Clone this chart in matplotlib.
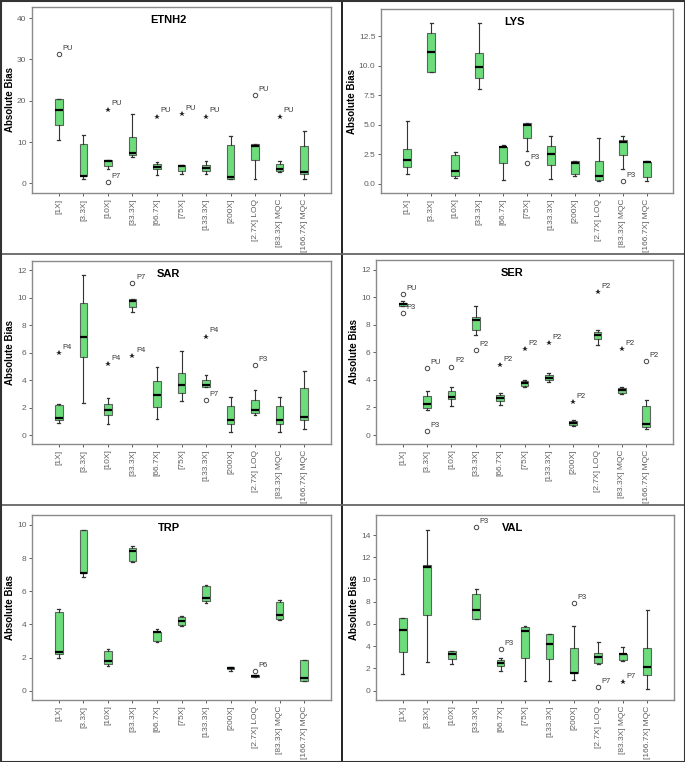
import matplotlib
matplotlib.use("Agg")
import matplotlib.pyplot as plt
from matplotlib.lines import Line2D
from matplotlib.ticker import FormatStrFormatter

plt.rcParams['font.family'] = ['Liberation Sans', 'DejaVu Sans']

categories = ["[1X]", "[3.3X]", "[10X]", "[33.3X]", "[66.7X]", "[75X]",
              "[133.3X]", "[200X]", "[2.7X] LOQ", "[83.3X] MQC", "[166.7X] MQC"]

# ---------------- ETNH2 ----------------
etnh2_q1  = [14.2, 1.9, 4.3, 6.8, 3.6, 3.0, 3.1, 1.1, 5.6, 3.0, 2.3]
etnh2_med = [17.9, 1.9, 5.5, 7.4, 4.0, 4.3, 3.7, 1.5, 9.1, 3.6, 2.8]
etnh2_q3  = [20.4, 9.5, 5.7, 11.2, 4.7, 4.5, 4.5, 9.4, 9.5, 4.6, 9.1]
etnh2_lo  = [10.6, 1.2, 3.4, 6.5, 2.1, 2.3, 2.4, 1.1, 1.0, 2.7, 1.2]
etnh2_hi  = [20.4, 11.7, 5.7, 16.7, 5.3, 4.5, 5.5, 11.6, 9.5, 5.5, 12.8]
etnh2_out_cat = [0, 2, 2, 4, 5, 6, 8, 9]
etnh2_out_val = [31.3, 17.9, 0.3, 16.2, 16.8, 16.2, 21.3, 16.2]
etnh2_out_lab = ["PU", "PU", "P7", "PU", "PU", "PU", "PU", "PU"]
etnh2_out_kind = ["o", "*", "o", "*", "*", "*", "o", "*"]

# ---------------- LYS ----------------
lys_q1  = [1.41, 9.48, 0.65, 8.97, 1.75, 3.84, 1.61, 0.85, 0.31, 2.40, 0.56]
lys_med = [1.98, 11.15, 1.07, 9.85, 3.08, 4.99, 2.51, 1.78, 0.62, 3.53, 1.81]
lys_q3  = [2.96, 12.75, 2.43, 11.09, 3.10, 5.16, 3.16, 1.92, 1.89, 3.72, 1.86]
lys_lo  = [0.85, 9.42, 0.50, 7.99, 0.31, 2.77, 0.42, 0.62, 0.20, 1.27, 0.20]
lys_hi  = [5.30, 13.60, 2.68, 13.60, 3.25, 5.16, 4.06, 1.92, 3.89, 4.06, 1.95]
lys_out_cat = [5, 9]
lys_out_val = [1.72, 0.20]
lys_out_lab = ["P3", "P3"]
lys_out_kind = ["o", "o"]

# ---------------- SAR ----------------
sar_q1  = [1.09, 5.67, 1.48, 9.33, 2.08, 3.08, 3.52, 0.80, 1.62, 0.80, 1.09]
sar_med = [1.28, 7.15, 1.82, 9.75, 2.91, 3.68, 3.64, 1.07, 1.82, 1.07, 1.31]
sar_q3  = [2.16, 9.60, 2.25, 9.94, 3.95, 4.51, 4.00, 2.11, 2.52, 2.11, 3.42]
sar_lo  = [0.87, 2.35, 0.82, 8.95, 1.16, 2.45, 3.47, 0.24, 1.48, 0.24, 0.46]
sar_hi  = [2.28, 11.68, 2.72, 9.94, 4.95, 6.11, 4.34, 2.76, 3.25, 2.76, 4.68]
sar_out_cat = [0, 2, 3, 3, 6, 6, 8]
sar_out_val = [5.99, 5.19, 11.08, 5.77, 7.18, 2.52, 5.09]
sar_out_lab = ["P4", "P4", "P7", "P4", "P4", "P7", "P3"]
sar_out_kind = ["*", "*", "o", "*", "*", "o", "o"]

# ---------------- SER ----------------
ser_q1  = [9.37, 1.96, 2.58, 7.65, 2.44, 3.57, 3.96, 0.70, 7.00, 3.07, 0.56]
ser_med = [9.51, 2.27, 2.75, 8.38, 2.70, 3.79, 4.15, 0.89, 7.24, 3.28, 0.77]
ser_q3  = [9.61, 2.80, 3.21, 8.55, 2.92, 3.94, 4.37, 1.04, 7.44, 3.38, 2.08]
ser_lo  = [9.37, 1.81, 2.10, 7.24, 2.17, 3.45, 3.86, 0.68, 6.54, 2.99, 0.43]
ser_hi  = [9.75, 3.21, 3.45, 9.39, 3.07, 3.98, 4.47, 1.09, 7.65, 3.45, 2.54]
ser_out_cat = [0, 0, 1, 1, 2, 3, 4, 5, 6, 7, 8, 9, 10]
ser_out_val = [10.26, 8.88, 4.88, 0.27, 4.97, 6.20, 5.05, 6.25, 6.66, 2.37, 10.36, 6.25, 5.38]
ser_out_lab = ["PU", "P3", "PU", "P3", "P2", "P2", "P2", "P2", "P2", "P2", "P2", "P2", "P2"]
ser_out_kind = ["o", "o", "o", "o", "o", "o", "*", "*", "*", "*", "*", "*", "o"]

# ---------------- TRP ----------------
trp_q1  = [2.19, 7.08, 1.63, 7.83, 3.00, 3.98, 5.39, 1.33, 0.85, 4.35, 0.58]
trp_med = [2.33, 7.08, 1.79, 8.41, 3.52, 4.21, 5.61, 1.39, 0.91, 4.55, 0.74]
trp_q3  = [4.77, 9.68, 2.41, 8.59, 3.54, 4.45, 6.30, 1.41, 0.95, 5.35, 1.83]
trp_lo  = [1.95, 6.88, 1.49, 7.79, 2.92, 3.90, 5.31, 1.19, 0.85, 4.25, 0.56]
trp_hi  = [4.93, 9.68, 2.52, 8.71, 3.72, 4.51, 6.38, 1.45, 0.95, 5.47, 1.83]
trp_out_cat = [8]
trp_out_val = [1.17]
trp_out_lab = ["P6"]
trp_out_kind = ["o"]

# ---------------- VAL ----------------
val_q1  = [3.46, 6.84, 2.89, 6.47, 2.26, 2.92, 2.89, 1.60, 2.47, 2.77, 1.45]
val_med = [5.45, 11.08, 3.34, 7.26, 2.53, 5.33, 4.19, 1.60, 3.01, 3.31, 2.17]
val_q3  = [6.53, 11.29, 3.58, 8.67, 2.74, 5.75, 5.06, 3.85, 3.43, 3.34, 3.85]
val_lo  = [1.54, 2.59, 2.44, 6.47, 1.75, 0.84, 0.84, 0.96, 2.41, 2.71, 0.18]
val_hi  = [6.53, 14.45, 3.58, 9.15, 2.92, 5.81, 5.06, 5.84, 4.34, 3.91, 7.29]
val_out_cat = [3, 4, 7, 8, 9]
val_out_val = [14.75, 3.76, 7.92, 0.36, 0.78]
val_out_lab = ["P3", "P3", "P3", "P7", "P7"]
val_out_kind = ["o", "o", "o", "o", "*"]

W, H = 685, 762
fig = plt.figure(figsize=(W / 100, H / 100), dpi=100)
fig.patch.set_facecolor("white")

def px_axes(left, right, top, bottom):
    return fig.add_axes([left / W, 1 - bottom / H, (right - left) / W, (bottom - top) / H])

panels = [
    ("ETNH2", (32, 331, 7, 193), (-2.3, 42.7), [0, 10, 20, 30, 40], "%d",
     etnh2_q1, etnh2_med, etnh2_q3, etnh2_lo, etnh2_hi,
     etnh2_out_cat, etnh2_out_val, etnh2_out_lab, etnh2_out_kind),
    ("LYS", (381, 673, 9, 193), (-0.8, 14.8), [0, 2.5, 5, 7.5, 10, 12.5], "%.1f",
     lys_q1, lys_med, lys_q3, lys_lo, lys_hi,
     lys_out_cat, lys_out_val, lys_out_lab, lys_out_kind),
    ("SAR", (32, 331, 261, 444), (-0.65, 12.68), [0, 2, 4, 6, 8, 10, 12], "%d",
     sar_q1, sar_med, sar_q3, sar_lo, sar_hi,
     sar_out_cat, sar_out_val, sar_out_lab, sar_out_kind),
    ("SER", (376, 673, 260, 444), (-0.65, 12.7), [0, 2, 4, 6, 8, 10, 12], "%d",
     ser_q1, ser_med, ser_q3, ser_lo, ser_hi,
     ser_out_cat, ser_out_val, ser_out_lab, ser_out_kind),
    ("TRP", (32, 331, 515, 700), (-0.56, 10.6), [0, 2, 4, 6, 8, 10], "%d",
     trp_q1, trp_med, trp_q3, trp_lo, trp_hi,
     trp_out_cat, trp_out_val, trp_out_lab, trp_out_kind),
    ("VAL", (376, 674, 515, 700), (-0.84, 15.8), [0, 2, 4, 6, 8, 10, 12, 14], "%d",
     val_q1, val_med, val_q3, val_lo, val_hi,
     val_out_cat, val_out_val, val_out_lab, val_out_kind),
]

box_face = "#6ddc7b"
box_edge = "#5a665c"
grey = "#5e5e5e"

for (title, pos, ylim, yticks, fmt, q1, med, q3, lo, hi,
     ocat, oval, olab, okind) in panels:
    ax = px_axes(*pos)
    stats = []
    for i in range(len(categories)):
        stats.append(dict(q1=q1[i], med=med[i], q3=q3[i], whislo=lo[i],
                          whishi=hi[i], fliers=[], label=categories[i]))
    positions = list(range(1, len(categories) + 1))
    ax.bxp(stats, positions=positions, widths=0.32, capwidths=0.12,
           patch_artist=True, showfliers=False,
           boxprops=dict(facecolor=box_face, edgecolor=box_edge, linewidth=0.8),
           medianprops=dict(color="black", linewidth=1.6),
           whiskerprops=dict(color="#333333", linewidth=0.8),
           capprops=dict(color="#333333", linewidth=0.9))
    for c, v, lab, k in zip(ocat, oval, olab, okind):
        x = positions[c]
        if k == "o":
            ax.plot(x, v, marker="o", ms=3.2, mfc="white", mec="#444444",
                    mew=0.7, ls="none")
        else:
            ax.plot(x, v, marker="*", ms=3.8, color="#222222", mew=0,
                    ls="none")
        ax.annotate(lab, (x, v), xytext=(2.5, 1.5), textcoords="offset points",
                    fontsize=5.4, color="#333333", ha="left", va="bottom")
    ax.set_xlim(-0.1, 12.1)
    ax.set_ylim(*ylim)
    ax.set_yticks(yticks)
    ax.yaxis.set_major_formatter(FormatStrFormatter(fmt))
    ax.set_xticks(positions)
    ax.set_xticklabels(categories, rotation=90)
    ax.tick_params(axis="both", labelsize=6, colors=grey, length=2.5,
                   width=0.7, pad=1.5)
    for lbl in ax.get_xticklabels() + ax.get_yticklabels():
        lbl.set_color(grey)
    for sp in ax.spines.values():
        sp.set_color("#8a8a8a")
        sp.set_linewidth(1.0)
    ax.set_ylabel("Absolute Bias", fontsize=7, fontweight="bold", labelpad=1.5)
    ax.text(0.457, 0.93, title, transform=ax.transAxes, ha="center",
            va="center", fontsize=8, fontweight="bold")

# panel separators and outer frame
def fig_line(x0, y0, x1, y1, color, lw):
    fig.add_artist(Line2D([x0 / W, x1 / W], [1 - y0 / H, 1 - y1 / H],
                          color=color, linewidth=lw, transform=fig.transFigure))

fig_line(342, 0, 342, H, "#111111", 1.3)
fig_line(0, 254, W, 254, "#666666", 1.3)
fig_line(0, 505, W, 505, "#666666", 1.3)
fig_line(0.5, 0, 0.5, H, "#333333", 1.5)
fig_line(W - 0.5, 0, W - 0.5, H, "#333333", 1.5)
fig_line(0, 0.5, W, 0.5, "#333333", 1.5)
fig_line(0, H - 0.5, W, H - 0.5, "#333333", 1.5)

fig.savefig("out.png", dpi=100)
